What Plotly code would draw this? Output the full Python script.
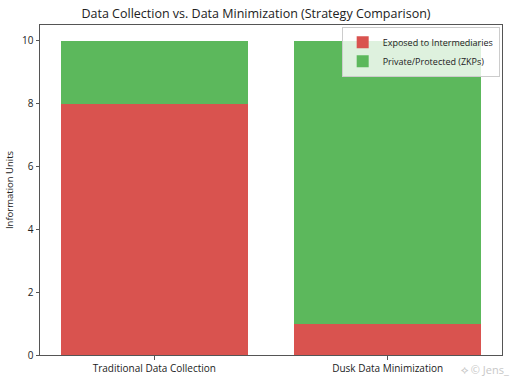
import plotly.graph_objects as go

categories = ["Traditional Data Collection", "Dusk Data Minimization"]
exposed = [8, 1]
private = [2, 9]
series_names = ["Exposed to Intermediaries", "Private/Protected (ZKPs)"]
colors = ["#d9534f", "#5cb85c"]

fig = go.Figure()
fig.add_trace(go.Bar(x=[0, 1], y=exposed, name=series_names[0], marker_color=colors[0],
                     marker_line_width=0, width=0.8))
fig.add_trace(go.Bar(x=[0, 1], y=private, name=series_names[1], marker_color=colors[1],
                     marker_line_width=0, width=0.8))

font = "Open Sans, Roboto, sans-serif"
fig.update_layout(
    barmode="stack",
    width=512, height=384,
    margin=dict(l=40, r=9, t=25, b=27),
    paper_bgcolor="white", plot_bgcolor="white",
    font=dict(family=font, size=10, color="#222"),
    title=dict(text="Data Collection vs. Data Minimization (Strategy Comparison)",
               x=0.5, xanchor="center", y=0.965, yanchor="middle",
               font=dict(size=12.5, color="#222")),
    legend=dict(x=0.995, y=0.995, xanchor="right", yanchor="top",
                traceorder="normal",
                bordercolor="#cccccc", borderwidth=1, bgcolor="rgba(255,255,255,0.8)",
                font=dict(size=9), tracegroupgap=0, itemwidth=30),
    showlegend=True,
    xaxis=dict(range=[-0.49, 1.49], tickvals=[0, 1], ticktext=categories,
               showline=True, linecolor="#555", linewidth=1, mirror=True,
               ticks="outside", ticklen=3.5, tickcolor="#555", showgrid=False,
               zeroline=False, tickfont=dict(size=10)),
    yaxis=dict(range=[0, 10.5], tickvals=[0, 2, 4, 6, 8, 10],
               showline=True, linecolor="#555", linewidth=1, mirror=True,
               ticks="outside", ticklen=3.5, tickcolor="#555", showgrid=False,
               zeroline=False, tickfont=dict(size=10),
               title=dict(text="Information Units", font=dict(size=9.5), standoff=6)),
)
fig.add_annotation(text="⟡ © Jens_", xref="paper", yref="paper", x=1.02, y=-0.045,
                   xanchor="right", yanchor="middle", showarrow=False,
                   font=dict(size=11, color="#c8c8c8"))
fig.write_html("out.html")
